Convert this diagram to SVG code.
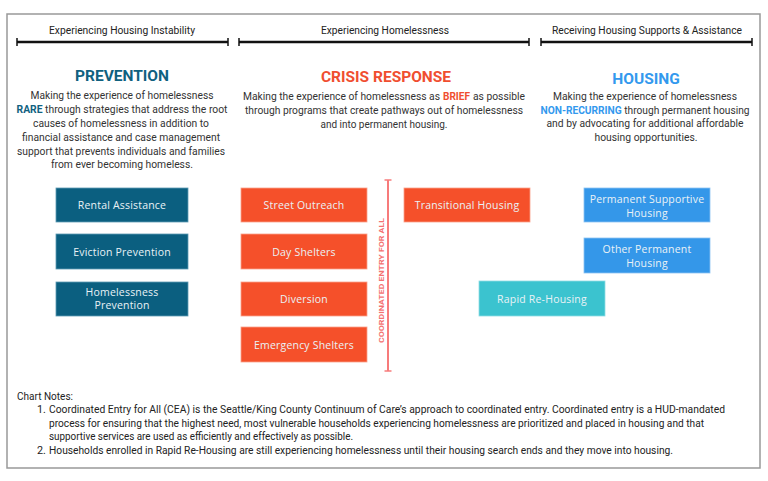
<svg xmlns="http://www.w3.org/2000/svg" width="768" height="481" viewBox="0 0 768 481">
<style>
.hdr{font-family:Roboto,"Liberation Sans",sans-serif;font-size:11.5px;fill:#222;text-anchor:middle}
.ttl{font-family:Roboto,"Liberation Sans",sans-serif;font-size:15.5px;font-weight:bold;text-anchor:middle}
.body{font-family:Roboto,"Liberation Sans",sans-serif;font-size:10.9px;fill:#333;text-anchor:middle}
.bl{font-family:Roboto,"Liberation Sans",sans-serif;font-size:10.9px;fill:#333}
.note{font-family:Roboto,"Liberation Sans",sans-serif;font-size:10.8px;fill:#222}
.box text{font-family:"Open Sans","Liberation Sans",sans-serif;font-size:10.5px;fill:#eaf2f6;text-anchor:middle;letter-spacing:0.2px}
.prev rect{fill:#0b5f80;stroke:#5f9bb3;stroke-width:0.8}
.cris rect{fill:#f5502a;stroke:#f9a08a;stroke-width:0.8}
.hous rect{fill:#3497e9;stroke:#8cc3f3;stroke-width:0.8}
.rapid rect{fill:#3bc3cf;stroke:#8fdde4;stroke-width:0.8}
.bar{stroke:#111;stroke-width:2.5}
.tick{stroke:#111;stroke-width:1.5}
</style>
<rect x="0" y="0" width="768" height="481" fill="#fff"/>
<rect x="7" y="14" width="753" height="454" fill="none" stroke="#999" stroke-width="1.5"/>

<!-- phase headers -->
<g id="phases">
<text class="hdr" x="122" y="34" textLength="146" lengthAdjust="spacingAndGlyphs">Experiencing Housing Instability</text>
<line class="bar" x1="17" y1="42" x2="228" y2="42"/>
<line class="tick" x1="17" y1="38" x2="17" y2="46"/>
<line class="tick" x1="228" y1="38" x2="228" y2="46"/>
<text class="hdr" x="385" y="34" textLength="128" lengthAdjust="spacingAndGlyphs">Experiencing Homelessness</text>
<line class="bar" x1="239" y1="42" x2="529" y2="42"/>
<line class="tick" x1="239" y1="38" x2="239" y2="46"/>
<line class="tick" x1="529" y1="38" x2="529" y2="46"/>
<text class="hdr" x="647" y="34" textLength="190" lengthAdjust="spacingAndGlyphs">Receiving Housing Supports &amp; Assistance</text>
<line class="bar" x1="541" y1="42" x2="752" y2="42"/>
<line class="tick" x1="541" y1="38" x2="541" y2="46"/>
<line class="tick" x1="752" y1="38" x2="752" y2="46"/>
</g>

<!-- column titles -->
<g id="prevention-title">
<text class="ttl" x="122" y="81" fill="#10617f">PREVENTION</text>
<text class="body" x="122" y="99" textLength="183" lengthAdjust="spacingAndGlyphs">Making the experience of homelessness</text>
<text class="body" x="122" y="113" textLength="211" lengthAdjust="spacingAndGlyphs"><tspan fill="#10617f" font-weight="bold">RARE</tspan> through strategies that address the root</text>
<text class="body" x="121" y="127" textLength="176" lengthAdjust="spacingAndGlyphs">causes of homelessness in addition to</text>
<text class="body" x="121" y="141" textLength="198" lengthAdjust="spacingAndGlyphs">financial assistance and case management</text>
<text class="body" x="121" y="155" textLength="208" lengthAdjust="spacingAndGlyphs">support that prevents individuals and families</text>
<text class="body" x="122" y="168" textLength="142" lengthAdjust="spacingAndGlyphs">from ever becoming homeless.</text>
</g>
<g id="crisis-title">
<text class="ttl" x="386" y="81.5" fill="#f04e30">CRISIS RESPONSE</text>
<text class="bl" x="243" y="100" style="font-size:10.3px" textLength="197" lengthAdjust="spacingAndGlyphs">Making the experience of homelessness as</text>
<text class="bl" x="443" y="100" style="fill:#f04e30;font-weight:bold" textLength="27" lengthAdjust="spacingAndGlyphs">BRIEF</text>
<text class="bl" x="473" y="100" textLength="52" lengthAdjust="spacingAndGlyphs">as possible</text>
<text class="body" x="384" y="114" textLength="278" lengthAdjust="spacingAndGlyphs">through programs that create pathways out of homelessness</text>
<text class="body" x="384" y="127.5" textLength="127" lengthAdjust="spacingAndGlyphs">and into permanent housing.</text>
</g>
<g id="housing-title">
<text class="ttl" x="646" y="84" fill="#3399ee">HOUSING</text>
<text class="body" x="645" y="100" textLength="184" lengthAdjust="spacingAndGlyphs">Making the experience of homelessness</text>
<text class="body" x="645" y="113.5" textLength="209" lengthAdjust="spacingAndGlyphs"><tspan fill="#3399ee" font-weight="bold">NON-RECURRING</tspan> through permanent housing</text>
<text class="body" x="645" y="127" textLength="197" lengthAdjust="spacingAndGlyphs">and by advocating for additional affordable</text>
<text class="body" x="646" y="141" textLength="103" lengthAdjust="spacingAndGlyphs">housing opportunities.</text>
</g>

<!-- prevention boxes -->
<g id="rental-assistance" class="box prev"><rect x="56" y="188" width="132" height="34"/><text x="122" y="209">Rental Assistance</text></g>
<g id="eviction-prevention" class="box prev"><rect x="56" y="234" width="132" height="35"/><text x="122" y="255.5">Eviction Prevention</text></g>
<g id="homelessness-prevention" class="box prev"><rect x="56" y="282" width="132" height="34"/><text x="122" y="296">Homelessness</text><text x="122" y="309">Prevention</text></g>

<!-- crisis boxes -->
<g id="street-outreach" class="box cris"><rect x="241" y="188" width="126" height="34"/><text x="304" y="209">Street Outreach</text></g>
<g id="day-shelters" class="box cris"><rect x="241" y="234" width="126" height="35"/><text x="304" y="255.5">Day Shelters</text></g>
<g id="diversion" class="box cris"><rect x="241" y="282" width="126" height="34"/><text x="304" y="303">Diversion</text></g>
<g id="emergency-shelters" class="box cris"><rect x="241" y="327" width="126" height="35"/><text x="304" y="348.5">Emergency Shelters</text></g>
<g id="transitional-housing" class="box cris"><rect x="404" y="188" width="126" height="34"/><text x="467" y="209">Transitional Housing</text></g>

<!-- housing boxes -->
<g id="permanent-supportive-housing" class="box hous"><rect x="584" y="188" width="126" height="34"/><text x="647" y="203">Permanent Supportive</text><text x="647" y="217">Housing</text></g>
<g id="other-permanent-housing" class="box hous"><rect x="584" y="238" width="126" height="35"/><text x="647" y="252.5">Other Permanent</text><text x="647" y="266.5">Housing</text></g>
<g id="rapid-re-housing" class="box rapid"><rect x="479" y="281" width="126" height="35"/><text x="542" y="302.5">Rapid Re-Housing</text></g>

<!-- coordinated entry bracket -->
<g id="connectors">
<line x1="388" y1="180" x2="388" y2="371" stroke="#f77b7b" stroke-width="2"/>
<line x1="384.5" y1="180" x2="391.5" y2="180" stroke="#f77b7b" stroke-width="1.5"/>
<line x1="384.5" y1="371" x2="391.5" y2="371" stroke="#f77b7b" stroke-width="1.5"/>
</g>
<g id="coordinated-entry-label">
<text x="0" y="0" transform="translate(383.5,280.5) rotate(-90)" font-family="Roboto,'Liberation Sans',sans-serif" font-size="8px" font-weight="bold" fill="#f47272" text-anchor="middle" textLength="125" lengthAdjust="spacingAndGlyphs">COORDINATED ENTRY FOR ALL</text>
</g>

<!-- notes -->
<g id="chart-notes">
<text class="note" x="17" y="399.5" textLength="56" lengthAdjust="spacingAndGlyphs">Chart Notes:</text>
<text class="note" x="37" y="413">1.</text>
<text class="note" x="49" y="413" textLength="676" lengthAdjust="spacingAndGlyphs">Coordinated Entry for All (CEA) is the Seattle/King County Continuum of Care’s approach to coordinated entry. Coordinated entry is a HUD-mandated</text>
<text class="note" x="49" y="426.5" textLength="655" lengthAdjust="spacingAndGlyphs">process for ensuring that the highest need, most vulnerable households experiencing homelessness are prioritized and placed in housing and that</text>
<text class="note" x="49" y="440" textLength="304" lengthAdjust="spacingAndGlyphs">supportive services are used as efficiently and effectively as possible.</text>
<text class="note" x="37" y="453.5">2.</text>
<text class="note" x="49" y="453.5" textLength="624" lengthAdjust="spacingAndGlyphs">Households enrolled in Rapid Re-Housing are still experiencing homelessness until their housing search ends and they move into housing.</text>
</g>
</svg>
